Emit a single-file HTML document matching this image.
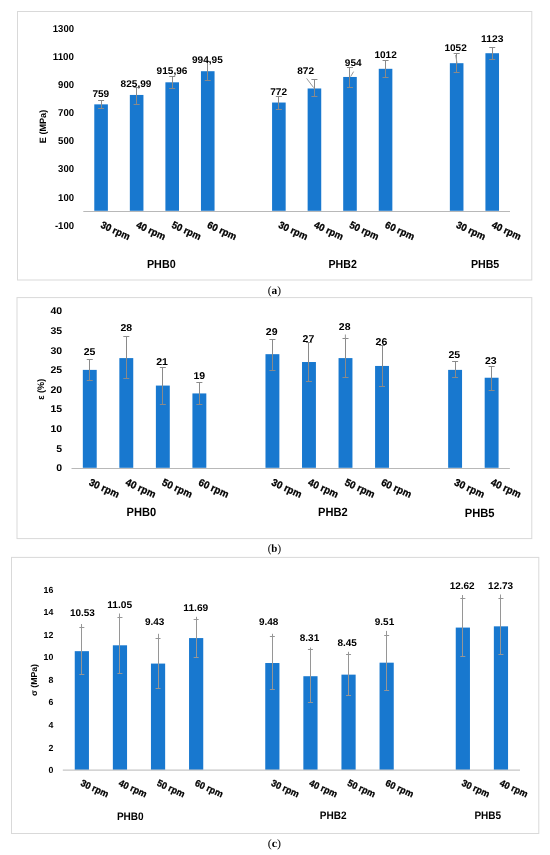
<!DOCTYPE html>
<html><head><meta charset="utf-8"><title>charts</title>
<style>
html,body{margin:0;padding:0;background:#fff}
svg{display:block;font-family:"Liberation Sans", sans-serif;text-rendering:geometricPrecision;}
</style></head><body>
<svg width="550" height="855" viewBox="0 0 550 855">
<rect width="550" height="855" fill="#fff"/>
<rect x="17.50" y="11.50" width="514.30" height="268.50" fill="#fff" stroke="#d9d9d9" stroke-width="1"/>
<text x="74.00" y="228.63" font-size="10.0" text-anchor="end" font-weight="bold" fill="#000" textLength="19.1" lengthAdjust="spacingAndGlyphs">-100</text>
<text x="74.00" y="200.53" font-size="10.0" text-anchor="end" font-weight="bold" fill="#000" textLength="15.9" lengthAdjust="spacingAndGlyphs">100</text>
<text x="74.00" y="172.43" font-size="10.0" text-anchor="end" font-weight="bold" fill="#000" textLength="15.9" lengthAdjust="spacingAndGlyphs">300</text>
<text x="74.00" y="144.33" font-size="10.0" text-anchor="end" font-weight="bold" fill="#000" textLength="15.9" lengthAdjust="spacingAndGlyphs">500</text>
<text x="74.00" y="116.23" font-size="10.0" text-anchor="end" font-weight="bold" fill="#000" textLength="15.9" lengthAdjust="spacingAndGlyphs">700</text>
<text x="74.00" y="88.13" font-size="10.0" text-anchor="end" font-weight="bold" fill="#000" textLength="15.9" lengthAdjust="spacingAndGlyphs">900</text>
<text x="74.00" y="60.03" font-size="10.0" text-anchor="end" font-weight="bold" fill="#000" textLength="21.2" lengthAdjust="spacingAndGlyphs">1100</text>
<text x="74.00" y="31.93" font-size="10.0" text-anchor="end" font-weight="bold" fill="#000" textLength="21.2" lengthAdjust="spacingAndGlyphs">1300</text>
<text transform="translate(45.60,126.50) rotate(-90)" font-size="9.2" text-anchor="middle" font-weight="bold" fill="#000" textLength="33.5" lengthAdjust="spacingAndGlyphs">E (MPa)</text>
<rect x="94.28" y="104.36" width="13.60" height="106.44" fill="#1878cf"/>
<rect x="129.84" y="94.95" width="13.60" height="115.85" fill="#1878cf"/>
<rect x="165.40" y="82.31" width="13.60" height="128.49" fill="#1878cf"/>
<rect x="200.95" y="71.21" width="13.60" height="139.59" fill="#1878cf"/>
<rect x="272.07" y="102.53" width="13.60" height="108.27" fill="#1878cf"/>
<rect x="307.63" y="88.48" width="13.60" height="122.32" fill="#1878cf"/>
<rect x="343.19" y="76.96" width="13.60" height="133.84" fill="#1878cf"/>
<rect x="378.75" y="68.81" width="13.60" height="141.99" fill="#1878cf"/>
<rect x="449.86" y="63.19" width="13.60" height="147.61" fill="#1878cf"/>
<rect x="485.42" y="53.22" width="13.60" height="157.58" fill="#1878cf"/>
<line x1="83.30" y1="211.50" x2="510.00" y2="211.50" stroke="#b8b8b8" stroke-width="1"/>
<line x1="101.50" y1="100.60" x2="101.50" y2="108.00" stroke="#8a8a8a" stroke-width="1"/>
<line x1="98.08" y1="100.50" x2="104.08" y2="100.50" stroke="#8a8a8a" stroke-width="1"/>
<line x1="98.08" y1="108.50" x2="104.08" y2="108.50" stroke="#8a8a8a" stroke-width="1"/>
<text x="100.80" y="97.07" font-size="9.7" text-anchor="middle" font-weight="bold" fill="#000" textLength="16.8" lengthAdjust="spacingAndGlyphs">759</text>
<line x1="136.50" y1="87.00" x2="136.50" y2="104.00" stroke="#8a8a8a" stroke-width="1"/>
<line x1="133.64" y1="87.50" x2="139.64" y2="87.50" stroke="#8a8a8a" stroke-width="1"/>
<line x1="133.64" y1="104.50" x2="139.64" y2="104.50" stroke="#8a8a8a" stroke-width="1"/>
<text x="136.00" y="87.47" font-size="9.7" text-anchor="middle" font-weight="bold" fill="#000" textLength="30.8" lengthAdjust="spacingAndGlyphs">825,99</text>
<line x1="172.50" y1="76.40" x2="172.50" y2="88.20" stroke="#8a8a8a" stroke-width="1"/>
<line x1="169.20" y1="76.50" x2="175.20" y2="76.50" stroke="#8a8a8a" stroke-width="1"/>
<line x1="169.20" y1="88.50" x2="175.20" y2="88.50" stroke="#8a8a8a" stroke-width="1"/>
<text x="172.00" y="74.47" font-size="9.7" text-anchor="middle" font-weight="bold" fill="#000" textLength="30.8" lengthAdjust="spacingAndGlyphs">915,96</text>
<line x1="207.50" y1="61.00" x2="207.50" y2="80.00" stroke="#8a8a8a" stroke-width="1"/>
<line x1="204.75" y1="61.50" x2="210.75" y2="61.50" stroke="#8a8a8a" stroke-width="1"/>
<line x1="204.75" y1="80.50" x2="210.75" y2="80.50" stroke="#8a8a8a" stroke-width="1"/>
<text x="207.40" y="63.07" font-size="9.7" text-anchor="middle" font-weight="bold" fill="#000" textLength="30.8" lengthAdjust="spacingAndGlyphs">994,95</text>
<line x1="278.50" y1="96.00" x2="278.50" y2="109.20" stroke="#8a8a8a" stroke-width="1"/>
<line x1="275.87" y1="96.50" x2="281.87" y2="96.50" stroke="#8a8a8a" stroke-width="1"/>
<line x1="275.87" y1="109.50" x2="281.87" y2="109.50" stroke="#8a8a8a" stroke-width="1"/>
<text x="278.60" y="94.87" font-size="9.7" text-anchor="middle" font-weight="bold" fill="#000" textLength="16.8" lengthAdjust="spacingAndGlyphs">772</text>
<line x1="314.50" y1="79.60" x2="314.50" y2="96.80" stroke="#8a8a8a" stroke-width="1"/>
<line x1="311.43" y1="79.50" x2="317.43" y2="79.50" stroke="#8a8a8a" stroke-width="1"/>
<line x1="311.43" y1="96.50" x2="317.43" y2="96.50" stroke="#8a8a8a" stroke-width="1"/>
<line x1="306.60" y1="78.40" x2="313.60" y2="87.60" stroke="#999" stroke-width="1"/>
<text x="305.60" y="73.87" font-size="9.7" text-anchor="middle" font-weight="bold" fill="#000" textLength="16.8" lengthAdjust="spacingAndGlyphs">872</text>
<line x1="349.50" y1="67.00" x2="349.50" y2="87.00" stroke="#8a8a8a" stroke-width="1"/>
<line x1="346.99" y1="67.50" x2="352.99" y2="67.50" stroke="#8a8a8a" stroke-width="1"/>
<line x1="346.99" y1="87.50" x2="352.99" y2="87.50" stroke="#8a8a8a" stroke-width="1"/>
<line x1="353.60" y1="71.60" x2="350.60" y2="76.60" stroke="#999" stroke-width="1"/>
<text x="353.20" y="66.07" font-size="9.7" text-anchor="middle" font-weight="bold" fill="#000" textLength="16.8" lengthAdjust="spacingAndGlyphs">954</text>
<line x1="385.50" y1="60.00" x2="385.50" y2="77.60" stroke="#8a8a8a" stroke-width="1"/>
<line x1="382.55" y1="60.50" x2="388.55" y2="60.50" stroke="#8a8a8a" stroke-width="1"/>
<line x1="382.55" y1="77.50" x2="388.55" y2="77.50" stroke="#8a8a8a" stroke-width="1"/>
<text x="385.60" y="57.87" font-size="9.7" text-anchor="middle" font-weight="bold" fill="#000" textLength="22.4" lengthAdjust="spacingAndGlyphs">1012</text>
<line x1="456.50" y1="53.60" x2="456.50" y2="72.00" stroke="#8a8a8a" stroke-width="1"/>
<line x1="453.66" y1="53.50" x2="459.66" y2="53.50" stroke="#8a8a8a" stroke-width="1"/>
<line x1="453.66" y1="72.50" x2="459.66" y2="72.50" stroke="#8a8a8a" stroke-width="1"/>
<line x1="455.60" y1="55.00" x2="457.00" y2="63.00" stroke="#999" stroke-width="1"/>
<text x="455.60" y="51.07" font-size="9.7" text-anchor="middle" font-weight="bold" fill="#000" textLength="22.4" lengthAdjust="spacingAndGlyphs">1052</text>
<line x1="492.50" y1="47.00" x2="492.50" y2="59.20" stroke="#8a8a8a" stroke-width="1"/>
<line x1="489.22" y1="47.50" x2="495.22" y2="47.50" stroke="#8a8a8a" stroke-width="1"/>
<line x1="489.22" y1="59.50" x2="495.22" y2="59.50" stroke="#8a8a8a" stroke-width="1"/>
<text x="492.20" y="42.07" font-size="9.7" text-anchor="middle" font-weight="bold" fill="#000" textLength="22.4" lengthAdjust="spacingAndGlyphs">1123</text>
<text transform="translate(99.88,227.30) rotate(24.5)" font-size="10.0" font-weight="bold" fill="#000" stroke="#000" stroke-width="0.3" textLength="31.0" lengthAdjust="spacingAndGlyphs">30 rpm</text>
<text transform="translate(135.44,227.30) rotate(24.5)" font-size="10.0" font-weight="bold" fill="#000" stroke="#000" stroke-width="0.3" textLength="31.0" lengthAdjust="spacingAndGlyphs">40 rpm</text>
<text transform="translate(171.00,227.30) rotate(24.5)" font-size="10.0" font-weight="bold" fill="#000" stroke="#000" stroke-width="0.3" textLength="31.0" lengthAdjust="spacingAndGlyphs">50 rpm</text>
<text transform="translate(206.55,227.30) rotate(24.5)" font-size="10.0" font-weight="bold" fill="#000" stroke="#000" stroke-width="0.3" textLength="31.0" lengthAdjust="spacingAndGlyphs">60 rpm</text>
<text transform="translate(277.67,227.30) rotate(24.5)" font-size="10.0" font-weight="bold" fill="#000" stroke="#000" stroke-width="0.3" textLength="31.0" lengthAdjust="spacingAndGlyphs">30 rpm</text>
<text transform="translate(313.23,227.30) rotate(24.5)" font-size="10.0" font-weight="bold" fill="#000" stroke="#000" stroke-width="0.3" textLength="31.0" lengthAdjust="spacingAndGlyphs">40 rpm</text>
<text transform="translate(348.79,227.30) rotate(24.5)" font-size="10.0" font-weight="bold" fill="#000" stroke="#000" stroke-width="0.3" textLength="31.0" lengthAdjust="spacingAndGlyphs">50 rpm</text>
<text transform="translate(384.35,227.30) rotate(24.5)" font-size="10.0" font-weight="bold" fill="#000" stroke="#000" stroke-width="0.3" textLength="31.0" lengthAdjust="spacingAndGlyphs">60 rpm</text>
<text transform="translate(455.46,227.30) rotate(24.5)" font-size="10.0" font-weight="bold" fill="#000" stroke="#000" stroke-width="0.3" textLength="31.0" lengthAdjust="spacingAndGlyphs">30 rpm</text>
<text transform="translate(491.02,227.30) rotate(24.5)" font-size="10.0" font-weight="bold" fill="#000" stroke="#000" stroke-width="0.3" textLength="31.0" lengthAdjust="spacingAndGlyphs">40 rpm</text>
<text x="161.30" y="267.79" font-size="11.7" text-anchor="middle" font-weight="bold" fill="#000" textLength="28.7" lengthAdjust="spacingAndGlyphs">PHB0</text>
<text x="342.70" y="267.99" font-size="11.7" text-anchor="middle" font-weight="bold" fill="#000" textLength="28.4" lengthAdjust="spacingAndGlyphs">PHB2</text>
<text x="485.10" y="267.69" font-size="11.7" text-anchor="middle" font-weight="bold" fill="#000" textLength="28.4" lengthAdjust="spacingAndGlyphs">PHB5</text>
<rect x="17.00" y="297.60" width="514.80" height="241.00" fill="#fff" stroke="#d9d9d9" stroke-width="1"/>
<text x="62.20" y="471.31" font-size="9.8" text-anchor="end" font-weight="bold" fill="#000" textLength="5.85" lengthAdjust="spacingAndGlyphs">0</text>
<text x="62.20" y="451.68" font-size="9.8" text-anchor="end" font-weight="bold" fill="#000" textLength="5.85" lengthAdjust="spacingAndGlyphs">5</text>
<text x="62.20" y="432.06" font-size="9.8" text-anchor="end" font-weight="bold" fill="#000" textLength="11.7" lengthAdjust="spacingAndGlyphs">10</text>
<text x="62.20" y="412.43" font-size="9.8" text-anchor="end" font-weight="bold" fill="#000" textLength="11.7" lengthAdjust="spacingAndGlyphs">15</text>
<text x="62.20" y="392.81" font-size="9.8" text-anchor="end" font-weight="bold" fill="#000" textLength="11.7" lengthAdjust="spacingAndGlyphs">20</text>
<text x="62.20" y="373.18" font-size="9.8" text-anchor="end" font-weight="bold" fill="#000" textLength="11.7" lengthAdjust="spacingAndGlyphs">25</text>
<text x="62.20" y="353.56" font-size="9.8" text-anchor="end" font-weight="bold" fill="#000" textLength="11.7" lengthAdjust="spacingAndGlyphs">30</text>
<text x="62.20" y="333.93" font-size="9.8" text-anchor="end" font-weight="bold" fill="#000" textLength="11.7" lengthAdjust="spacingAndGlyphs">35</text>
<text x="62.20" y="314.31" font-size="9.8" text-anchor="end" font-weight="bold" fill="#000" textLength="11.7" lengthAdjust="spacingAndGlyphs">40</text>
<text transform="translate(44.40,389.30) rotate(-90)" font-size="9.4" text-anchor="middle" font-weight="bold" fill="#000" textLength="21.0" lengthAdjust="spacingAndGlyphs">ε (%)</text>
<rect x="82.82" y="369.88" width="13.90" height="97.92" fill="#1878cf"/>
<rect x="119.35" y="358.10" width="13.90" height="109.70" fill="#1878cf"/>
<rect x="155.88" y="385.57" width="13.90" height="82.23" fill="#1878cf"/>
<rect x="192.42" y="393.43" width="13.90" height="74.37" fill="#1878cf"/>
<rect x="265.48" y="354.18" width="13.90" height="113.62" fill="#1878cf"/>
<rect x="302.02" y="362.02" width="13.90" height="105.78" fill="#1878cf"/>
<rect x="338.55" y="358.10" width="13.90" height="109.70" fill="#1878cf"/>
<rect x="375.08" y="365.95" width="13.90" height="101.85" fill="#1878cf"/>
<rect x="448.15" y="369.88" width="13.90" height="97.92" fill="#1878cf"/>
<rect x="484.68" y="377.73" width="13.90" height="90.07" fill="#1878cf"/>
<line x1="71.50" y1="468.50" x2="509.90" y2="468.50" stroke="#b8b8b8" stroke-width="1"/>
<line x1="89.50" y1="359.00" x2="89.50" y2="380.80" stroke="#8a8a8a" stroke-width="1"/>
<line x1="86.77" y1="359.50" x2="92.77" y2="359.50" stroke="#8a8a8a" stroke-width="1"/>
<line x1="86.77" y1="380.50" x2="92.77" y2="380.50" stroke="#8a8a8a" stroke-width="1"/>
<text x="89.60" y="354.94" font-size="9.9" text-anchor="middle" font-weight="bold" fill="#000" textLength="11.7" lengthAdjust="spacingAndGlyphs">25</text>
<line x1="126.50" y1="336.40" x2="126.50" y2="378.90" stroke="#8a8a8a" stroke-width="1"/>
<line x1="123.30" y1="336.50" x2="129.30" y2="336.50" stroke="#8a8a8a" stroke-width="1"/>
<line x1="123.30" y1="378.50" x2="129.30" y2="378.50" stroke="#8a8a8a" stroke-width="1"/>
<text x="126.30" y="330.74" font-size="9.9" text-anchor="middle" font-weight="bold" fill="#000" textLength="11.7" lengthAdjust="spacingAndGlyphs">28</text>
<line x1="162.50" y1="367.50" x2="162.50" y2="404.40" stroke="#8a8a8a" stroke-width="1"/>
<line x1="159.83" y1="367.50" x2="165.83" y2="367.50" stroke="#8a8a8a" stroke-width="1"/>
<line x1="159.83" y1="404.50" x2="165.83" y2="404.50" stroke="#8a8a8a" stroke-width="1"/>
<text x="162.00" y="365.44" font-size="9.9" text-anchor="middle" font-weight="bold" fill="#000" textLength="11.7" lengthAdjust="spacingAndGlyphs">21</text>
<line x1="199.50" y1="382.20" x2="199.50" y2="404.40" stroke="#8a8a8a" stroke-width="1"/>
<line x1="196.37" y1="382.50" x2="202.37" y2="382.50" stroke="#8a8a8a" stroke-width="1"/>
<line x1="196.37" y1="404.50" x2="202.37" y2="404.50" stroke="#8a8a8a" stroke-width="1"/>
<text x="199.30" y="378.54" font-size="9.9" text-anchor="middle" font-weight="bold" fill="#000" textLength="11.7" lengthAdjust="spacingAndGlyphs">19</text>
<line x1="272.50" y1="339.00" x2="272.50" y2="370.10" stroke="#8a8a8a" stroke-width="1"/>
<line x1="269.43" y1="339.50" x2="275.43" y2="339.50" stroke="#8a8a8a" stroke-width="1"/>
<line x1="269.43" y1="370.50" x2="275.43" y2="370.50" stroke="#8a8a8a" stroke-width="1"/>
<text x="271.70" y="335.34" font-size="9.9" text-anchor="middle" font-weight="bold" fill="#000" textLength="11.7" lengthAdjust="spacingAndGlyphs">29</text>
<line x1="308.50" y1="342.30" x2="308.50" y2="381.50" stroke="#8a8a8a" stroke-width="1"/>
<line x1="305.97" y1="342.50" x2="311.97" y2="342.50" stroke="#8a8a8a" stroke-width="1"/>
<line x1="305.97" y1="381.50" x2="311.97" y2="381.50" stroke="#8a8a8a" stroke-width="1"/>
<text x="308.40" y="341.54" font-size="9.9" text-anchor="middle" font-weight="bold" fill="#000" textLength="11.7" lengthAdjust="spacingAndGlyphs">27</text>
<line x1="345.50" y1="338.70" x2="345.50" y2="377.60" stroke="#8a8a8a" stroke-width="1"/>
<line x1="342.50" y1="338.50" x2="348.50" y2="338.50" stroke="#8a8a8a" stroke-width="1"/>
<line x1="342.50" y1="377.50" x2="348.50" y2="377.50" stroke="#8a8a8a" stroke-width="1"/>
<line x1="345.40" y1="334.50" x2="345.40" y2="339.00" stroke="#999" stroke-width="1"/>
<text x="344.70" y="329.74" font-size="9.9" text-anchor="middle" font-weight="bold" fill="#000" textLength="11.7" lengthAdjust="spacingAndGlyphs">28</text>
<line x1="382.50" y1="345.50" x2="382.50" y2="386.80" stroke="#8a8a8a" stroke-width="1"/>
<line x1="379.03" y1="345.50" x2="385.03" y2="345.50" stroke="#8a8a8a" stroke-width="1"/>
<line x1="379.03" y1="386.50" x2="385.03" y2="386.50" stroke="#8a8a8a" stroke-width="1"/>
<text x="381.40" y="345.14" font-size="9.9" text-anchor="middle" font-weight="bold" fill="#000" textLength="11.7" lengthAdjust="spacingAndGlyphs">26</text>
<line x1="455.50" y1="361.70" x2="455.50" y2="377.50" stroke="#8a8a8a" stroke-width="1"/>
<line x1="452.10" y1="361.50" x2="458.10" y2="361.50" stroke="#8a8a8a" stroke-width="1"/>
<line x1="452.10" y1="377.50" x2="458.10" y2="377.50" stroke="#8a8a8a" stroke-width="1"/>
<text x="454.30" y="358.44" font-size="9.9" text-anchor="middle" font-weight="bold" fill="#000" textLength="11.7" lengthAdjust="spacingAndGlyphs">25</text>
<line x1="491.50" y1="366.10" x2="491.50" y2="390.10" stroke="#8a8a8a" stroke-width="1"/>
<line x1="488.63" y1="366.50" x2="494.63" y2="366.50" stroke="#8a8a8a" stroke-width="1"/>
<line x1="488.63" y1="390.50" x2="494.63" y2="390.50" stroke="#8a8a8a" stroke-width="1"/>
<text x="490.80" y="364.14" font-size="9.9" text-anchor="middle" font-weight="bold" fill="#000" textLength="11.7" lengthAdjust="spacingAndGlyphs">23</text>
<text transform="translate(88.17,484.80) rotate(24.5)" font-size="10.3" font-weight="bold" fill="#000" stroke="#000" stroke-width="0.3" textLength="32.0" lengthAdjust="spacingAndGlyphs">30 rpm</text>
<text transform="translate(124.70,484.80) rotate(24.5)" font-size="10.3" font-weight="bold" fill="#000" stroke="#000" stroke-width="0.3" textLength="32.0" lengthAdjust="spacingAndGlyphs">40 rpm</text>
<text transform="translate(161.23,484.80) rotate(24.5)" font-size="10.3" font-weight="bold" fill="#000" stroke="#000" stroke-width="0.3" textLength="32.0" lengthAdjust="spacingAndGlyphs">50 rpm</text>
<text transform="translate(197.77,484.80) rotate(24.5)" font-size="10.3" font-weight="bold" fill="#000" stroke="#000" stroke-width="0.3" textLength="32.0" lengthAdjust="spacingAndGlyphs">60 rpm</text>
<text transform="translate(270.83,484.80) rotate(24.5)" font-size="10.3" font-weight="bold" fill="#000" stroke="#000" stroke-width="0.3" textLength="32.0" lengthAdjust="spacingAndGlyphs">30 rpm</text>
<text transform="translate(307.37,484.80) rotate(24.5)" font-size="10.3" font-weight="bold" fill="#000" stroke="#000" stroke-width="0.3" textLength="32.0" lengthAdjust="spacingAndGlyphs">40 rpm</text>
<text transform="translate(343.90,484.80) rotate(24.5)" font-size="10.3" font-weight="bold" fill="#000" stroke="#000" stroke-width="0.3" textLength="32.0" lengthAdjust="spacingAndGlyphs">50 rpm</text>
<text transform="translate(380.43,484.80) rotate(24.5)" font-size="10.3" font-weight="bold" fill="#000" stroke="#000" stroke-width="0.3" textLength="32.0" lengthAdjust="spacingAndGlyphs">60 rpm</text>
<text transform="translate(453.50,484.80) rotate(24.5)" font-size="10.3" font-weight="bold" fill="#000" stroke="#000" stroke-width="0.3" textLength="32.0" lengthAdjust="spacingAndGlyphs">30 rpm</text>
<text transform="translate(490.03,484.80) rotate(24.5)" font-size="10.3" font-weight="bold" fill="#000" stroke="#000" stroke-width="0.3" textLength="32.0" lengthAdjust="spacingAndGlyphs">40 rpm</text>
<text x="141.40" y="516.10" font-size="12.0" text-anchor="middle" font-weight="bold" fill="#000" textLength="29.6" lengthAdjust="spacingAndGlyphs">PHB0</text>
<text x="332.80" y="516.30" font-size="12.0" text-anchor="middle" font-weight="bold" fill="#000" textLength="29.6" lengthAdjust="spacingAndGlyphs">PHB2</text>
<text x="479.60" y="516.70" font-size="12.0" text-anchor="middle" font-weight="bold" fill="#000" textLength="29.8" lengthAdjust="spacingAndGlyphs">PHB5</text>
<rect x="11.50" y="557.40" width="527.30" height="276.10" fill="#fff" stroke="#d9d9d9" stroke-width="1"/>
<text x="53.30" y="773.15" font-size="8.8" text-anchor="end" font-weight="bold" fill="#000" textLength="4.9" lengthAdjust="spacingAndGlyphs">0</text>
<text x="53.30" y="750.58" font-size="8.8" text-anchor="end" font-weight="bold" fill="#000" textLength="4.9" lengthAdjust="spacingAndGlyphs">2</text>
<text x="53.30" y="728.01" font-size="8.8" text-anchor="end" font-weight="bold" fill="#000" textLength="4.9" lengthAdjust="spacingAndGlyphs">4</text>
<text x="53.30" y="705.44" font-size="8.8" text-anchor="end" font-weight="bold" fill="#000" textLength="4.9" lengthAdjust="spacingAndGlyphs">6</text>
<text x="53.30" y="682.87" font-size="8.8" text-anchor="end" font-weight="bold" fill="#000" textLength="4.9" lengthAdjust="spacingAndGlyphs">8</text>
<text x="53.30" y="660.30" font-size="8.8" text-anchor="end" font-weight="bold" fill="#000" textLength="9.8" lengthAdjust="spacingAndGlyphs">10</text>
<text x="53.30" y="637.73" font-size="8.8" text-anchor="end" font-weight="bold" fill="#000" textLength="9.8" lengthAdjust="spacingAndGlyphs">12</text>
<text x="53.30" y="615.16" font-size="8.8" text-anchor="end" font-weight="bold" fill="#000" textLength="9.8" lengthAdjust="spacingAndGlyphs">14</text>
<text x="53.30" y="592.59" font-size="8.8" text-anchor="end" font-weight="bold" fill="#000" textLength="9.8" lengthAdjust="spacingAndGlyphs">16</text>
<text transform="translate(37.00,680.00) rotate(-90)" font-size="8.6" text-anchor="middle" font-weight="bold" fill="#000" textLength="32" lengthAdjust="spacingAndGlyphs">σ (MPa)</text>
<rect x="74.75" y="651.17" width="14.20" height="118.63" fill="#1878cf"/>
<rect x="112.85" y="645.30" width="14.20" height="124.50" fill="#1878cf"/>
<rect x="150.95" y="663.58" width="14.20" height="106.22" fill="#1878cf"/>
<rect x="189.05" y="638.08" width="14.20" height="131.72" fill="#1878cf"/>
<rect x="265.25" y="663.02" width="14.20" height="106.78" fill="#1878cf"/>
<rect x="303.35" y="676.22" width="14.20" height="93.58" fill="#1878cf"/>
<rect x="341.45" y="674.64" width="14.20" height="95.16" fill="#1878cf"/>
<rect x="379.55" y="662.68" width="14.20" height="107.12" fill="#1878cf"/>
<rect x="455.75" y="627.58" width="14.20" height="142.22" fill="#1878cf"/>
<rect x="493.85" y="626.34" width="14.20" height="143.46" fill="#1878cf"/>
<line x1="62.80" y1="770.10" x2="520.00" y2="770.10" stroke="#b8b8b8" stroke-width="1"/>
<line x1="81.50" y1="627.30" x2="81.50" y2="674.70" stroke="#969696" stroke-width="1"/>
<line x1="79.35" y1="627.50" x2="84.35" y2="627.50" stroke="#969696" stroke-width="1"/>
<line x1="79.35" y1="674.50" x2="84.35" y2="674.50" stroke="#969696" stroke-width="1"/>
<line x1="81.50" y1="624.00" x2="81.50" y2="627.30" stroke="#969696" stroke-width="1"/>
<text x="82.40" y="615.87" font-size="9.7" text-anchor="middle" font-weight="bold" fill="#000" textLength="25.0" lengthAdjust="spacingAndGlyphs">10.53</text>
<line x1="119.50" y1="617.20" x2="119.50" y2="673.70" stroke="#969696" stroke-width="1"/>
<line x1="117.45" y1="617.50" x2="122.45" y2="617.50" stroke="#969696" stroke-width="1"/>
<line x1="117.45" y1="673.50" x2="122.45" y2="673.50" stroke="#969696" stroke-width="1"/>
<line x1="119.50" y1="613.50" x2="119.50" y2="617.00" stroke="#969696" stroke-width="1"/>
<text x="119.70" y="607.97" font-size="9.7" text-anchor="middle" font-weight="bold" fill="#000" textLength="25.0" lengthAdjust="spacingAndGlyphs">11.05</text>
<line x1="158.50" y1="638.20" x2="158.50" y2="688.10" stroke="#969696" stroke-width="1"/>
<line x1="155.55" y1="638.50" x2="160.55" y2="638.50" stroke="#969696" stroke-width="1"/>
<line x1="155.55" y1="688.50" x2="160.55" y2="688.50" stroke="#969696" stroke-width="1"/>
<line x1="158.50" y1="633.80" x2="158.50" y2="638.00" stroke="#969696" stroke-width="1"/>
<text x="154.60" y="624.87" font-size="9.7" text-anchor="middle" font-weight="bold" fill="#000" textLength="19.45" lengthAdjust="spacingAndGlyphs">9.43</text>
<line x1="196.50" y1="619.10" x2="196.50" y2="657.40" stroke="#969696" stroke-width="1"/>
<line x1="193.65" y1="619.50" x2="198.65" y2="619.50" stroke="#969696" stroke-width="1"/>
<line x1="193.65" y1="657.50" x2="198.65" y2="657.50" stroke="#969696" stroke-width="1"/>
<line x1="196.50" y1="616.80" x2="196.50" y2="619.00" stroke="#969696" stroke-width="1"/>
<text x="195.80" y="611.47" font-size="9.7" text-anchor="middle" font-weight="bold" fill="#000" textLength="25.0" lengthAdjust="spacingAndGlyphs">11.69</text>
<line x1="272.50" y1="636.80" x2="272.50" y2="689.10" stroke="#969696" stroke-width="1"/>
<line x1="269.85" y1="636.50" x2="274.85" y2="636.50" stroke="#969696" stroke-width="1"/>
<line x1="269.85" y1="689.50" x2="274.85" y2="689.50" stroke="#969696" stroke-width="1"/>
<line x1="272.50" y1="633.80" x2="272.50" y2="636.80" stroke="#969696" stroke-width="1"/>
<text x="268.60" y="625.17" font-size="9.7" text-anchor="middle" font-weight="bold" fill="#000" textLength="19.45" lengthAdjust="spacingAndGlyphs">9.48</text>
<line x1="310.50" y1="649.50" x2="310.50" y2="702.50" stroke="#969696" stroke-width="1"/>
<line x1="307.95" y1="649.50" x2="312.95" y2="649.50" stroke="#969696" stroke-width="1"/>
<line x1="307.95" y1="702.50" x2="312.95" y2="702.50" stroke="#969696" stroke-width="1"/>
<line x1="310.50" y1="647.50" x2="310.50" y2="649.50" stroke="#969696" stroke-width="1"/>
<text x="309.50" y="641.17" font-size="9.7" text-anchor="middle" font-weight="bold" fill="#000" textLength="19.45" lengthAdjust="spacingAndGlyphs">8.31</text>
<line x1="348.50" y1="654.10" x2="348.50" y2="695.70" stroke="#969696" stroke-width="1"/>
<line x1="346.05" y1="654.50" x2="351.05" y2="654.50" stroke="#969696" stroke-width="1"/>
<line x1="346.05" y1="695.50" x2="351.05" y2="695.50" stroke="#969696" stroke-width="1"/>
<line x1="348.50" y1="651.80" x2="348.50" y2="654.00" stroke="#969696" stroke-width="1"/>
<text x="347.20" y="645.77" font-size="9.7" text-anchor="middle" font-weight="bold" fill="#000" textLength="19.45" lengthAdjust="spacingAndGlyphs">8.45</text>
<line x1="386.50" y1="635.50" x2="386.50" y2="690.10" stroke="#969696" stroke-width="1"/>
<line x1="384.15" y1="635.50" x2="389.15" y2="635.50" stroke="#969696" stroke-width="1"/>
<line x1="384.15" y1="690.50" x2="389.15" y2="690.50" stroke="#969696" stroke-width="1"/>
<line x1="386.50" y1="630.90" x2="386.50" y2="635.50" stroke="#969696" stroke-width="1"/>
<text x="384.50" y="624.87" font-size="9.7" text-anchor="middle" font-weight="bold" fill="#000" textLength="19.45" lengthAdjust="spacingAndGlyphs">9.51</text>
<line x1="462.50" y1="598.00" x2="462.50" y2="656.60" stroke="#969696" stroke-width="1"/>
<line x1="460.35" y1="598.50" x2="465.35" y2="598.50" stroke="#969696" stroke-width="1"/>
<line x1="460.35" y1="656.50" x2="465.35" y2="656.50" stroke="#969696" stroke-width="1"/>
<line x1="462.50" y1="595.00" x2="462.50" y2="598.00" stroke="#969696" stroke-width="1"/>
<text x="462.20" y="589.47" font-size="9.7" text-anchor="middle" font-weight="bold" fill="#000" textLength="25.0" lengthAdjust="spacingAndGlyphs">12.62</text>
<line x1="500.50" y1="598.00" x2="500.50" y2="654.40" stroke="#969696" stroke-width="1"/>
<line x1="498.45" y1="598.50" x2="503.45" y2="598.50" stroke="#969696" stroke-width="1"/>
<line x1="498.45" y1="654.50" x2="503.45" y2="654.50" stroke="#969696" stroke-width="1"/>
<line x1="500.50" y1="594.50" x2="500.50" y2="598.00" stroke="#969696" stroke-width="1"/>
<text x="500.60" y="588.97" font-size="9.7" text-anchor="middle" font-weight="bold" fill="#000" textLength="25.0" lengthAdjust="spacingAndGlyphs">12.73</text>
<text transform="translate(79.95,785.30) rotate(24.5)" font-size="9.6" font-weight="bold" fill="#000" stroke="#000" stroke-width="0.3" textLength="29.6" lengthAdjust="spacingAndGlyphs">30 rpm</text>
<text transform="translate(118.05,785.30) rotate(24.5)" font-size="9.6" font-weight="bold" fill="#000" stroke="#000" stroke-width="0.3" textLength="29.6" lengthAdjust="spacingAndGlyphs">40 rpm</text>
<text transform="translate(156.15,785.30) rotate(24.5)" font-size="9.6" font-weight="bold" fill="#000" stroke="#000" stroke-width="0.3" textLength="29.6" lengthAdjust="spacingAndGlyphs">50 rpm</text>
<text transform="translate(194.25,785.30) rotate(24.5)" font-size="9.6" font-weight="bold" fill="#000" stroke="#000" stroke-width="0.3" textLength="29.6" lengthAdjust="spacingAndGlyphs">60 rpm</text>
<text transform="translate(270.45,785.30) rotate(24.5)" font-size="9.6" font-weight="bold" fill="#000" stroke="#000" stroke-width="0.3" textLength="29.6" lengthAdjust="spacingAndGlyphs">30 rpm</text>
<text transform="translate(308.55,785.30) rotate(24.5)" font-size="9.6" font-weight="bold" fill="#000" stroke="#000" stroke-width="0.3" textLength="29.6" lengthAdjust="spacingAndGlyphs">40 rpm</text>
<text transform="translate(346.65,785.30) rotate(24.5)" font-size="9.6" font-weight="bold" fill="#000" stroke="#000" stroke-width="0.3" textLength="29.6" lengthAdjust="spacingAndGlyphs">50 rpm</text>
<text transform="translate(384.75,785.30) rotate(24.5)" font-size="9.6" font-weight="bold" fill="#000" stroke="#000" stroke-width="0.3" textLength="29.6" lengthAdjust="spacingAndGlyphs">60 rpm</text>
<text transform="translate(460.95,785.30) rotate(24.5)" font-size="9.6" font-weight="bold" fill="#000" stroke="#000" stroke-width="0.3" textLength="29.6" lengthAdjust="spacingAndGlyphs">30 rpm</text>
<text transform="translate(499.05,785.30) rotate(24.5)" font-size="9.6" font-weight="bold" fill="#000" stroke="#000" stroke-width="0.3" textLength="29.6" lengthAdjust="spacingAndGlyphs">40 rpm</text>
<text x="130.30" y="819.60" font-size="10.9" text-anchor="middle" font-weight="bold" fill="#000" textLength="26.8" lengthAdjust="spacingAndGlyphs">PHB0</text>
<text x="333.20" y="819.40" font-size="10.9" text-anchor="middle" font-weight="bold" fill="#000" textLength="26.8" lengthAdjust="spacingAndGlyphs">PHB2</text>
<text x="487.80" y="818.50" font-size="10.9" text-anchor="middle" font-weight="bold" fill="#000" textLength="26.8" lengthAdjust="spacingAndGlyphs">PHB5</text>
<text x="274.4" y="293.5" font-size="11.3" text-anchor="middle" fill="#000" textLength="13.3" lengthAdjust="spacingAndGlyphs" font-family='"Liberation Serif", serif'>(<tspan font-weight="bold">a</tspan>)</text>
<text x="274.4" y="551.7" font-size="11.3" text-anchor="middle" fill="#000" textLength="13.3" lengthAdjust="spacingAndGlyphs" font-family='"Liberation Serif", serif'>(<tspan font-weight="bold">b</tspan>)</text>
<text x="274.4" y="847.1" font-size="11.3" text-anchor="middle" fill="#000" textLength="13.3" lengthAdjust="spacingAndGlyphs" font-family='"Liberation Serif", serif'>(<tspan font-weight="bold">c</tspan>)</text>
</svg>
</body></html>
